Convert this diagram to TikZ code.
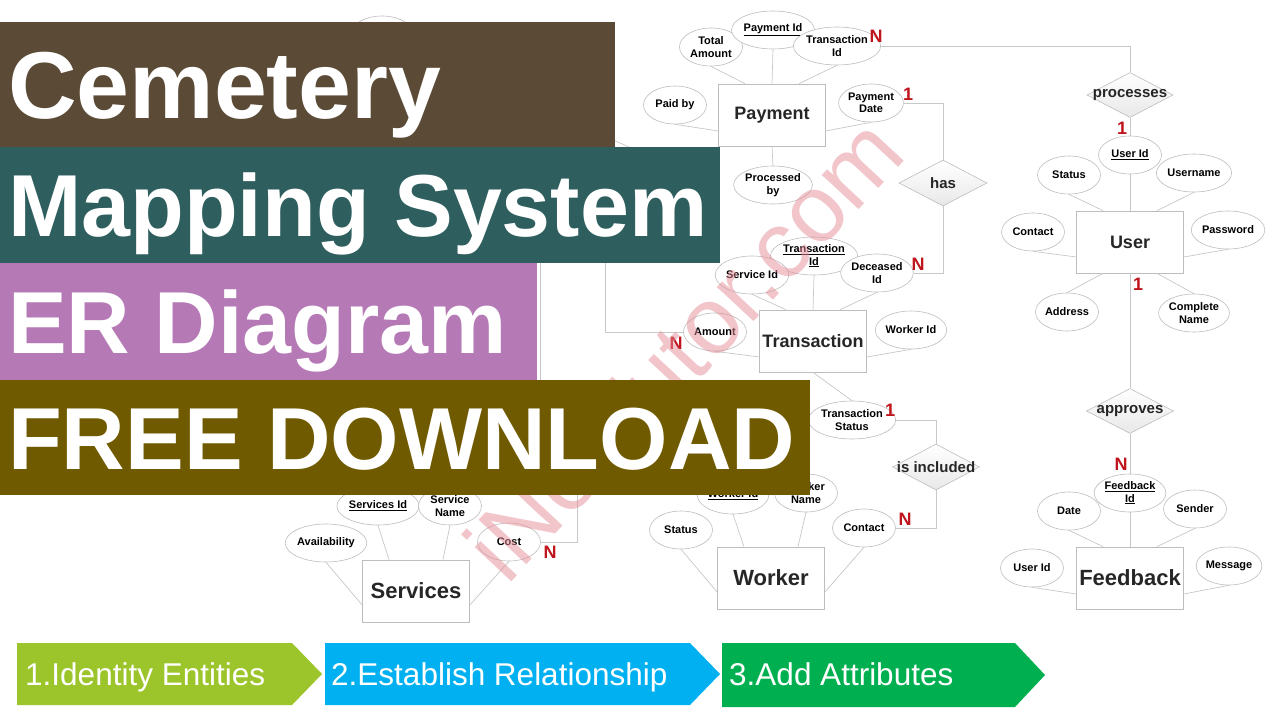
\documentclass[tikz,border=0pt]{standalone}
\usepackage{fontspec}
\setmainfont{Liberation Sans}
\usetikzlibrary{shapes.geometric,calc}
\definecolor{lnc}{HTML}{C8C8C8}
\definecolor{bdc}{HTML}{BDBDBD}
\definecolor{cardc}{HTML}{C0141C}
\definecolor{bnA}{HTML}{5B4A36}
\definecolor{bnB}{HTML}{2E5E5E}
\definecolor{bnC}{HTML}{B57AB5}
\definecolor{bnD}{HTML}{705A00}
\definecolor{chA}{HTML}{9BC52A}
\definecolor{chB}{HTML}{00B0F0}
\definecolor{chC}{HTML}{00B050}
\definecolor{wmc}{HTML}{E48C97}
\definecolor{enttext}{HTML}{262626}
\tikzset{
  attr/.style={ellipse, draw=bdc, fill=white, line width=0.6pt, minimum width=63pt, minimum height=38pt, inner sep=0pt, align=center, font=\bfseries\fontsize{11}{12.5}\selectfont},
  ent/.style={rectangle, draw=bdc, fill=white, line width=0.7pt, minimum width=107pt, minimum height=62pt, inner sep=0pt, text=enttext, font=\bfseries\fontsize{18}{20}\selectfont},
  entbig/.style={ent, font=\bfseries\fontsize{22}{24}\selectfont},
  reldia/.style={diamond, draw=bdc, line width=0.6pt, top color=white, bottom color=gray!18, inner sep=0pt, minimum width=87pt, minimum height=46pt},
  reltext/.style={inner sep=0pt, text=enttext, font=\bfseries\fontsize{15}{17}\selectfont},
  conn/.style={draw=lnc, line width=0.7pt},
  cardlbl/.style={inner sep=0pt, text=cardc, font=\bfseries\fontsize{18}{20}\selectfont},
  bantext/.style={inner sep=0pt, anchor=base west, text=white, font=\bfseries\fontsize{88}{90}\selectfont},
  steptext/.style={inner sep=0pt, anchor=base west, text=white, font=\fontsize{31.5}{33}\selectfont},
  wmark/.style={inner sep=0pt, text=wmc, opacity=0.5, font=\fontsize{95}{95}\selectfont}
}
\begin{document}
\begin{tikzpicture}[x=1pt,y=-1pt]
\useasboundingbox (0,0) rectangle (1280,720);
\fill[white] (0,0) rectangle (1280,720);

% ---------- hidden parts (behind banners)
\node[attr] (hidE) at (382,35) {};
\coordinate (hidA) at (577,420);
\coordinate (hidB) at (605,240);
\coordinate (hidC1) at (540,250);
\coordinate (hidC2) at (540,390);
\coordinate (hidD1) at (600,134);
\coordinate (hidD2) at (640,152);
\draw[conn] (hidC1) -- (hidC2);
\draw[conn] (hidD1) -- (hidD2);

% ---------- Payment
\node[ent] (pay) at (772,115) {Payment};
\node[attr] (ptamt) at (711,47) {Total\\Amount};
\node[attr] (ppid) at (773,30) {\underline{Payment Id}};
\node[attr] (ptid) at (837,46) {Transaction\\Id};
\node[attr] (ppaid) at (675,105) {Paid by};
\node[attr] (pdate) at (871,103) {Payment\\Date};
\node[attr] (pproc) at (773,185) {Processed\\by};
\draw[conn] (ptamt.south) -- ($(pay.north)+(-27,0)$);
\draw[conn] (ppid.south) -- (pay.north);
\draw[conn] (ptid.south) -- ($(pay.north)+(27,0)$);
\draw[conn] (ppaid.south) -- ($(pay.west)+(0,16)$);
\draw[conn] (pdate.south) -- ($(pay.east)+(0,16)$);
\draw[conn] (pay.south) -- (pproc.north);

% ---------- User
\node[ent] (usr) at (1130,242) {User};
\node[attr] (uid) at (1130,155) {\underline{User Id}};
\node[attr] (ustat) at (1069,175) {Status};
\node[attr] (uname) at (1194,173) {Username};
\node[attr] (ucont) at (1033,232) {Contact};
\node[attr] (upass) at (1228,230) {Password};
\node[attr] (uaddr) at (1067,312) {Address};
\node[attr] (ucname) at (1194,313) {Complete\\Name};
\draw[conn] (uid.south) -- (usr.north);
\draw[conn] (ustat.south) -- ($(usr.north)+(-27,0)$);
\draw[conn] (uname.south) -- ($(usr.north)+(27,0)$);
\draw[conn] (ucont.south) -- ($(usr.west)+(0,15)$);
\draw[conn] (upass.south) -- ($(usr.east)+(0,15)$);
\draw[conn] (uaddr.north) -- ($(usr.south)+(-27,0)$);
\draw[conn] (ucname.north) -- ($(usr.south)+(27,0)$);

% ---------- Transaction
\node[ent] (trn) at (813,341) {Transaction};
\node[attr] (tid) at (814,256) {\underline{Transaction}\\\underline{Id}};
\node[attr] (sid) at (752,275) {Service Id};
\node[attr] (dec) at (877,273) {Deceased\\Id};
\node[attr] (amt) at (715,332) {Amount};
\node[attr] (wid) at (911,330) {Worker Id};
\node[attr] (tstat) at (852,420) {Transaction\\Status};
\draw[conn] (tid.south) -- (trn.north);
\draw[conn] (sid.south) -- ($(trn.north)+(-27,0)$);
\draw[conn] (dec.south) -- ($(trn.north)+(27,0)$);
\draw[conn] (amt.south) -- ($(trn.west)+(0,16)$);
\draw[conn] (wid.south) -- ($(trn.east)+(0,16)$);
\draw[conn] (trn.south) -- (tstat.north);
\draw[conn] (amt.west) -| (hidB);

% ---------- Worker
\node[entbig] (wrk) at (771,578) {Worker};
\node[attr] (wkid) at (733,495) {\underline{Worker Id}};
\node[attr] (wkname) at (806,493) {Worker\\Name};
\node[attr] (wstat) at (681,530) {Status};
\node[attr] (wcont) at (864,528) {Contact};
\draw[conn] (wkid.south) -- ($(wrk.north)+(-27,0)$);
\draw[conn] (wkname.south) -- ($(wrk.north)+(27,0)$);
\draw[conn] (wstat.south) -- ($(wrk.west)+(0,14)$);
\draw[conn] (wcont.south) -- ($(wrk.east)+(0,14)$);

% ---------- Services
\node[entbig] (srv) at (416,591) {Services};
\node[attr] (svid) at (378,506) {\underline{Services Id}};
\node[attr] (svname) at (450,506) {Service\\Name};
\node[attr] (avail) at (326,543) {Availability};
\node[attr] (cost) at (509,542) {Cost};
\draw[conn] (svid.south) -- ($(srv.north)+(-27,0)$);
\draw[conn] (svname.south) -- ($(srv.north)+(27,0)$);
\draw[conn] (avail.south) -- ($(srv.west)+(0,14)$);
\draw[conn] (cost.south) -- ($(srv.east)+(0,14)$);
\draw[conn] (cost.east) -| (hidA);

% ---------- Feedback
\node[entbig] (fbk) at (1130,578) {Feedback};
\node[attr] (fid) at (1130,493) {\underline{Feedback}\\\underline{Id}};
\node[attr] (fdate) at (1069,511) {Date};
\node[attr] (fsend) at (1195,509) {Sender};
\node[attr] (fuid) at (1032,568) {User Id};
\node[attr] (fmsg) at (1229,566) {Message};
\draw[conn] (fid.south) -- (fbk.north);
\draw[conn] (fdate.south) -- ($(fbk.north)+(-27,0)$);
\draw[conn] (fsend.south) -- ($(fbk.north)+(27,0)$);
\draw[conn] (fuid.south) -- ($(fbk.west)+(0,16)$);
\draw[conn] (fmsg.south) -- ($(fbk.east)+(0,16)$);

% ---------- Relationships
\node[reldia, minimum width=86pt, minimum height=45pt] (procs) at (1130,95) {};
\node[reltext] (procsT) at (procs) {processes};
\node[reldia, minimum width=88pt] (hasd) at (943,183) {};
\node[reltext] (hasT) at (hasd) {has};
\node[reldia, minimum height=45pt] (appr) at (1130,411) {};
\node[reltext] (apprT) at (appr) {approves};
\node[reldia] (incl) at (936,467) {};
\node[reltext] (inclT) at (incl) {is included};

\draw[conn] (ptid.east) -| (procs.north);
\draw[conn] (procs.south) -- (uid.north);
\draw[conn] (pdate.east) -| (hasd.north);
\draw[conn] (hasd.south) |- (dec.east);
\draw[conn] (usr.south) -- (appr.north);
\draw[conn] (appr.south) -- (fid.north);
\draw[conn] (tstat.east) -| (incl.north);
\draw[conn] (incl.south) |- (wcont.east);

% ---------- Cardinalities
\node[cardlbl] (c1) at (876,36) {N};
\node[cardlbl] (c2) at (1122,128) {1};
\node[cardlbl] (c3) at (908,94) {1};
\node[cardlbl] (c4) at (918,264) {N};
\node[cardlbl] (c5) at (1138,284) {1};
\node[cardlbl] (c6) at (1121,464) {N};
\node[cardlbl] (c7) at (890,410) {1};
\node[cardlbl] (c8) at (905,519) {N};
\node[cardlbl] (c9) at (676,343) {N};
\node[cardlbl] (c10) at (550,552) {N};

% ---------- Watermark
\node[wmark, rotate=47] (wmk) at (683,348) {iNetTutor.com};

% ---------- Title banners
\fill[bnA] (0,22) rectangle (615,147);
\fill[bnB] (0,147) rectangle (720,263);
\fill[bnC] (0,263) rectangle (537,380);
\fill[bnD] (0,380) rectangle (810,495);
\node[bantext, font=\bfseries\fontsize{95}{97}\selectfont] (b1) at (8,118) {Cemetery};
\node[bantext] (b2) at (8,236) {Mapping System};
\node[bantext] (b3) at (8,353) {ER Diagram};
\node[bantext] (b4) at (8,469) {FREE DOWNLOAD};

% ---------- Step chevrons
\fill[chA] (17,643) -- (292,643) -- (322,674) -- (292,705) -- (17,705) -- cycle;
\fill[chB] (325,643) -- (690,643) -- (720,674) -- (690,705) -- (325,705) -- cycle;
\fill[chC] (722,643) -- (1015,643) -- (1045,675) -- (1015,707) -- (722,707) -- cycle;
\node[steptext] (s1) at (25,685) {1.Identity Entities};
\node[steptext] (s2) at (331,685) {2.Establish Relationship};
\node[steptext] (s3) at (729,685) {3.Add Attributes};
\end{tikzpicture}
\end{document}
